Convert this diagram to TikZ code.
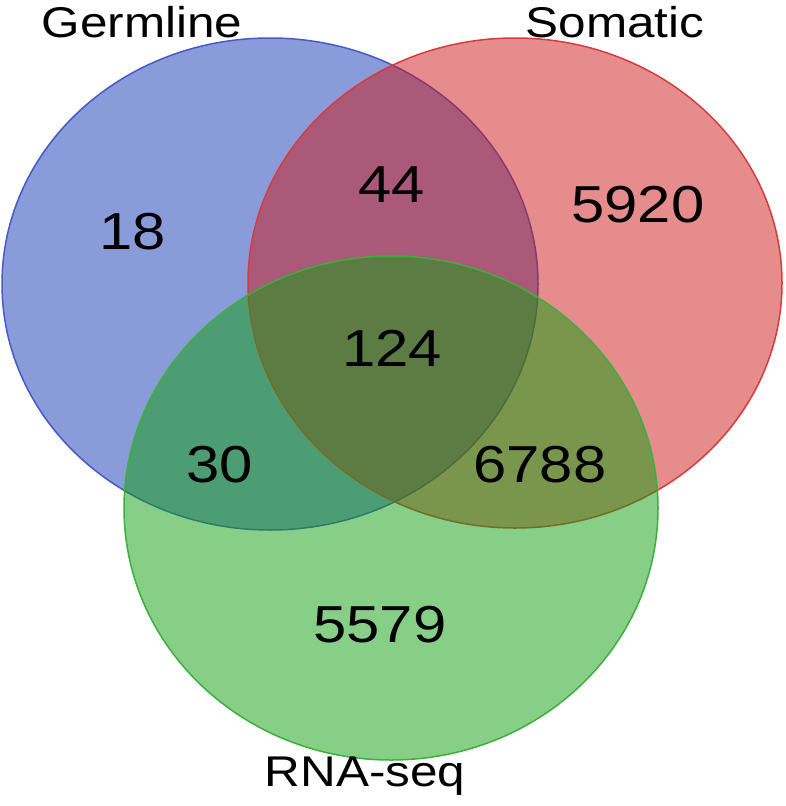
\documentclass[tikz,border=0pt]{standalone}
\usepackage{fontspec}
\setmainfont{Liberation Sans}
\definecolor{gb}{RGB}{21,55,181}
\definecolor{gr}{RGB}{205,25,25}
\definecolor{gg}{RGB}{15,160,15}
\definecolor{sb}{RGB}{70,90,200}
\definecolor{sr}{RGB}{215,60,60}
\definecolor{sg}{RGB}{60,175,60}
\begin{document}
\begin{tikzpicture}[x=1pt,y=-1pt,
  setc/.style={fill opacity=0.5,line width=1.5pt},
  num/.style={font=\fontsize{52}{56}\selectfont,xscale=1.15},
  lab/.style={font=\fontsize{43}{47}\selectfont,xscale=1.15}]
\useasboundingbox (0,0) rectangle (785,806);
\path[setc,fill=gb,draw=sb] (270,284) ellipse [x radius=268,y radius=246];
\path[setc,fill=gr,draw=sr] (515,283) ellipse [x radius=267,y radius=245];
\path[setc,fill=gg,draw=sg] (391,508) ellipse [x radius=267,y radius=252];
\node[num] (n18) at (133,232) {18};
\node[num] (n44) at (392,185) {44};
\node[num] (n5920) at (638,205) {5920};
\node[num] (n124) at (392,348) {124};
\node[num] (n30) at (220,465) {30};
\node[num] (n6788) at (540,465) {6788};
\node[num] (n5579) at (380,625) {5579};
\node[lab] (g) at (142,22) {Germline};
\node[lab] (s) at (615,22) {Somatic};
\node[lab] (r) at (365,776) {RNA-seq};
\end{tikzpicture}
\end{document}
